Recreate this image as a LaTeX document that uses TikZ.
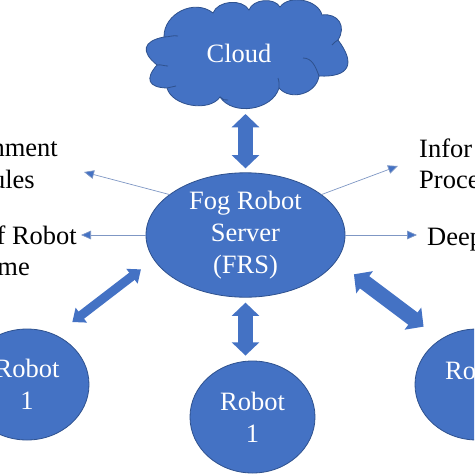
\documentclass[tikz,border=0pt]{standalone}
\usepackage{fontspec}
\setmainfont{Liberation Serif}
\usepackage{tikz}
\usetikzlibrary{arrows.meta,shapes.geometric}
\definecolor{fogblue}{HTML}{4472C4}
\definecolor{fogedge}{HTML}{2F528F}
\definecolor{thinblue}{HTML}{7F97C4}
\tikzset{labeltext/.style={font=\fontsize{22.6}{27.3}\selectfont,text=black,inner sep=0pt},
  fogshape/.style={ellipse,draw=fogedge,fill=fogblue,line width=0.7pt,inner sep=0pt,align=center,text=white,font=\fontsize{22.6}{27.3}\selectfont},
  lobe/.style={bend right=65,looseness=#1},
  thinarr/.style={-{Triangle[length=3mm,width=2.6mm,fill=fogblue]},line width=0.6pt,draw=thinblue},
  widearr/.style={{Triangle[length=4mm,width=8.1mm]}-{Triangle[length=4mm,width=8.1mm]},line width=4.6mm,draw=fogblue},
  slimarr/.style={{Triangle[length=3.4mm,width=5.4mm]}-{Triangle[length=3.4mm,width=5.4mm]},line width=2.7mm,draw=fogblue}}
\begin{document}
\begin{tikzpicture}[x=0.03cm,y=-0.03cm]
\useasboundingbox (0,0) rectangle (474,474);
\clip (0,0) rectangle (474,474);
\filldraw[fill=fogblue,draw=fogedge,line width=0.7pt] (164,37) to[lobe=1.9] (157,65) to[lobe=1.9] (167,88)
  to[lobe=.9] (220,97) to[lobe=1] (279,88) to[lobe=1.1] (319,76) to[lobe=1.9] (338,40) to[lobe=1.4] (322,15)
  to[lobe=.95] (280,7) to[lobe=.95] (249,10) to[lobe=.95] (213,13) to[lobe=1.1] (164,37) -- cycle;
\draw[fogedge,line width=0.7pt] (157,65) to[out=10,in=180] (168,66);
\draw[fogedge,line width=0.7pt] (164,37) to[out=0,in=170] (178,36);
\draw[fogedge,line width=0.7pt] (167,88) to[out=10,in=190] (176,86);
\draw[fogedge,line width=0.7pt] (220,97) to[out=320,in=200] (228,100);
\draw[fogedge,line width=0.7pt] (279,88) to[out=90,in=290] (278,78);
\draw[fogedge,line width=0.7pt] (319,76) to[out=110,in=0] (303,58);
\draw[fogedge,line width=0.7pt] (338,40) to[out=210,in=50] (332,45);
\node[text=white,font=\fontsize{22.6}{27.3}\selectfont,inner sep=0pt] (cloud) at (239,53) {Cloud};
\coordinate (cloudbase) at (245.5,114);
\node[fogshape,minimum width=5.97cm,minimum height=3.3cm] (frs) at (245.5,235) {Fog Robot\\Server\\(FRS)};
\node[fogshape,minimum width=3.72cm,minimum height=3.33cm] (robotleft) at (27,384.5) {Robot\\1};
\node[fogshape,minimum width=3.75cm,minimum height=3.36cm] (robotmid) at (252.5,417) {Robot\\1};
\node[fogshape,minimum width=3.72cm,minimum height=3.33cm] (robotright) at (477,384.5) {};
\node[labeltext,text=white,anchor=base west] (robotrighttext) at (445,379) {Ro};
\node[labeltext,anchor=base east] (rulesa) at (58,156) {nment};
\node[labeltext,anchor=base east] (rulesb) at (35,188) {ules};
\node[labeltext,anchor=base east] (timea) at (77,244) {f Robot};
\node[labeltext,anchor=base east] (timeb) at (30,275) {me};
\node[labeltext,anchor=base west] (infoa) at (419,157) {Infor};
\node[labeltext,anchor=base west] (infob) at (419,188) {Proce};
\node[labeltext,anchor=base west] (deep) at (427,245) {Deep};
\coordinate (tipul) at (84,172);
\coordinate (tipl) at (81,235);
\coordinate (tipur) at (398,166);
\coordinate (tipr) at (417,235);
\draw[thinarr] (frs.152) -- (tipul);
\draw[thinarr] (frs.west) -- (tipl);
\draw[thinarr] (frs.28) -- (tipur);
\draw[thinarr] (frs.east) -- (tipr);
\draw[widearr,shorten >=1.2mm] (cloudbase) -- (frs.north);
\draw[widearr,shorten <=1.5mm,shorten >=1.5mm] (frs.south) -- (frs.south |- robotmid.north);
\draw[slimarr,shorten <=4.8mm,shorten >=6.3mm] (frs.195) -- (robotleft.60);
\draw[widearr,shorten <=6.6mm,shorten >=6.3mm] (frs.-16) -- (robotright.129);
\end{tikzpicture}
\end{document}
